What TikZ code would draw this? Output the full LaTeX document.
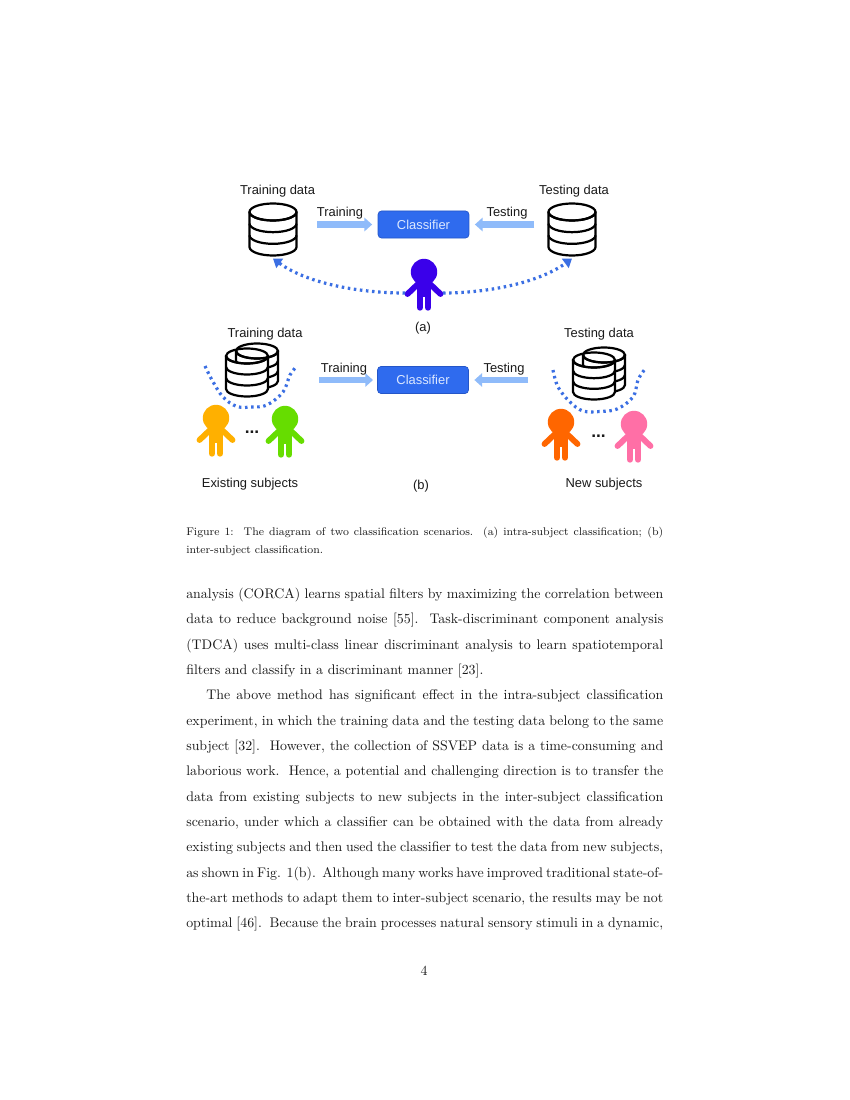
\documentclass[tikz,border=0pt]{standalone}
\usepackage{fontspec}
\newfontfamily\figsans{Liberation Sans}
\usetikzlibrary{arrows.meta}
\definecolor{dotblue}{HTML}{3B6FE3}
\definecolor{arrowblue}{HTML}{8FBBFA}
\definecolor{boxblue}{HTML}{2F6BEE}
\definecolor{boxedge}{HTML}{2456C8}
\definecolor{boxtext}{HTML}{DCE8FF}
\definecolor{pviolet}{HTML}{3A00EA}
\definecolor{pyellow}{HTML}{FFB000}
\definecolor{pgreen}{HTML}{66DD00}
\definecolor{porange}{HTML}{FF6600}
\definecolor{ppink}{HTML}{FF6FA6}
\tikzset{
  figlabel/.style={font=\figsans\fontsize{9.3}{11}\selectfont,inner sep=0pt,text=black!90},
  classbox/.style={rectangle,rounded corners=2.6pt,fill=boxblue,draw=boxedge,line width=0.5pt,
    minimum width=65.5pt,minimum height=19.5pt,inner sep=0pt,text=boxtext,font=\figsans\fontsize{9.3}{11}\selectfont},
  flow/.style={line width=5pt,arrowblue,-{Triangle[length=5.5pt,width=9.5pt]}},
  dotline/.style={dotblue,line width=2.3pt,dash pattern=on 1.8pt off 2.6pt},
  dotarrow/.style={dotline,-{Triangle[length=6pt,width=8pt,sep=0pt]}},
  bodyline/.style={anchor=base west,inner sep=0pt,font=\fontsize{10}{13}\selectfont,text=black!90},
  capline/.style={anchor=base west,inner sep=0pt,font=\fontsize{8}{10}\selectfont,text=black!90},
  pics/person/.style={code={
    \fill[#1] (0,0) circle (13.2);
    \fill[#1] (-7.2,8) rectangle (7.2,25);
    \draw[#1,line width=4.6pt,line cap=round] (-4,22) -- (-4,35.5);
    \draw[#1,line width=4.6pt,line cap=round] (4,22) -- (4,35.5);
    \draw[#1,line width=4.2pt,line cap=round] (-6,12) -- (-16.5,22);
    \draw[#1,line width=4.2pt,line cap=round] (6,12) -- (16.5,22);
    \coordinate (-l) at (-19,21);
    \coordinate (-r) at (19,21);
  }},
  pics/dbase/.style n args={3}{code={
    \filldraw[fill=white,draw=black,line width=1.6pt,line join=round]
      (-#1,0) -- (-#1,#3) arc (180:0:#1 and #2) -- (#1,0) arc (0:180:#1 and #2) -- cycle;
    \draw[line width=1.6pt] (0,0) ellipse (#1 and #2);
    \draw[line width=1.6pt] (-#1,#3/3) arc (180:0:#1 and #2);
    \draw[line width=1.6pt] (-#1,2*#3/3) arc (180:0:#1 and #2);
    \coordinate (-b) at (0,#3+#2+3);
  }}
}
\begin{document}
\begin{tikzpicture}[x=0.72pt,y=-0.72pt]
\useasboundingbox (0,0) rectangle (850,1100);
\fill[white] (0,0) rectangle (850,1100);

% --- panel (a)
\pic (dbA) at (273,212) {dbase={23.5}{8.5}{35}};
\pic (dbB) at (572,212) {dbase={23.5}{8.5}{35}};
\node[classbox] (clsA) at (423.5,224.5) {Classifier};
\coordinate (trA) at (317,224.5);
\coordinate (teA) at (534,224.5);
\draw[flow,shorten >=4pt] (trA) -- (clsA);
\draw[flow,shorten >=4pt] (teA) -- (clsA);
\pic (pA) at (424,272) {person=pviolet};
\draw[dotarrow] (pA-l) .. controls (355,293) and (305,282) .. (dbA-b);
\draw[dotarrow] (pA-r) .. controls (490,293) and (540,282) .. (dbB-b);
\node[figlabel] (l1) at (277.5,191) {Training data};
\node[figlabel] (l2) at (574,191) {Testing data};
\node[figlabel] (l3) at (340,213) {Training};
\node[figlabel] (l4) at (507,213) {Testing};
\node[figlabel] (l5) at (423,328.5) {(a)};

% --- panel (b)
\pic (dbC) at (257,351) {dbase={21}{7.5}{30}};
\pic (dbD) at (247,356) {dbase={21}{7.5}{33}};
\pic (dbE) at (604,355) {dbase={21}{7.5}{30}};
\pic (dbF) at (594,360) {dbase={21}{7.5}{32}};
\node[classbox] (clsB) at (423,380) {Classifier};
\coordinate (trB) at (319,380);
\coordinate (teB) at (528,380);
\draw[flow,shorten >=3pt] (trB) -- (clsB);
\draw[flow,shorten >=4pt] (teB) -- (clsB);
\pic (pB) at (216,418) {person=pyellow};
\pic (pC) at (285,419) {person=pgreen};
\pic (pD) at (561,422) {person=porange};
\pic (pE) at (634,424) {person=ppink};
\coordinate (d1a) at (205,366);
\coordinate (d1b) at (297,366);
\coordinate (d2a) at (553,370);
\coordinate (d2b) at (645,369);
\draw[dotline] plot[smooth,tension=0.6] coordinates {(d1a) (212,380) (223,397) (237,406.5) (252,407) (267,405) (283,392) (290,375) (d1b)};
\draw[dotline] plot[smooth,tension=0.6] coordinates {(d2a) (558,387) (570,402) (583,411) (600,411.5) (617,409) (633,397) (638,380) (d2b)};
\node[figlabel] (l6) at (265,334) {Training data};
\node[figlabel] (l7) at (599,334) {Testing data};
\node[figlabel] (l8) at (344,369) {Training};
\node[figlabel] (l9) at (504,369) {Testing};
\node[figlabel] (l10) at (421,486) {(b)};
\node[figlabel] (l11) at (250,484.5) {Existing subjects};
\node[figlabel] (l12) at (604,484.5) {New subjects};
\node[figlabel,font=\figsans\bfseries\fontsize{12.5}{14}\selectfont] (d1) at (252,432) {...};
\node[figlabel,font=\figsans\bfseries\fontsize{12.5}{14}\selectfont] (d2) at (598.5,436.5) {...};

% --- caption
\node[capline] (c1) at (186,535) {\hbox to 343.4pt{Figure 1:\ \ The diagram of two classification scenarios.\ \ (a) intra-subject classification; (b)}};
\node[capline] (c2) at (186,553.5) {inter-subject classification.};

% --- body
\node[bodyline] (t1) at (186,598) {\hbox to 343.4pt{analysis (CORCA) learns spatial filters by maximizing the correlation between}};
\node[bodyline] (t2) at (186,623.5) {\hbox to 343.4pt{data to reduce background noise [55].\ \ Task-discriminant component analysis}};
\node[bodyline] (t3) at (186,649) {\hbox to 343.4pt{(TDCA) uses multi-class linear discriminant analysis to learn spatiotemporal}};
\node[bodyline] (t4) at (186,674) {filters and classify in a discriminant manner [23].};
\node[bodyline] (t5) at (206,699.5) {\hbox to 329pt{The above method has significant effect in the intra-subject classification}};
\node[bodyline] (t6) at (186,725) {\hbox to 343.4pt{experiment, in which the training data and the testing data belong to the same}};
\node[bodyline] (t7) at (186,750) {\hbox to 343.4pt{subject [32].\ \ However, the collection of SSVEP data is a time-consuming and}};
\node[bodyline] (t8) at (186,775.5) {\hbox to 343.4pt{laborious work.\ \ Hence, a potential and challenging direction is to transfer the}};
\node[bodyline] (t9) at (186,801) {\hbox to 343.4pt{data from existing subjects to new subjects in the inter-subject classification}};
\node[bodyline] (t10) at (186,826) {\hbox to 343.4pt{scenario, under which a classifier can be obtained with the data from already}};
\node[bodyline] (t11) at (186,851.5) {\hbox to 343.4pt{existing subjects and then used the classifier to test the data from new subjects,}};
\node[bodyline] (t12) at (186,877) {\hbox to 343.4pt{as shown in Fig. 1(b).\ \ Although many works have improved traditional state-of-}};
\node[bodyline] (t13) at (186,902) {\hbox to 343.4pt{the-art methods to adapt them to inter-subject scenario, the results may be not}};
\node[bodyline] (t14) at (186,927.5) {\hbox to 343.4pt{optimal [46].\ \ Because the brain processes natural sensory stimuli in a dynamic,}};
\node[bodyline,anchor=base] (pg) at (424,975) {4};
\end{tikzpicture}
\end{document}
